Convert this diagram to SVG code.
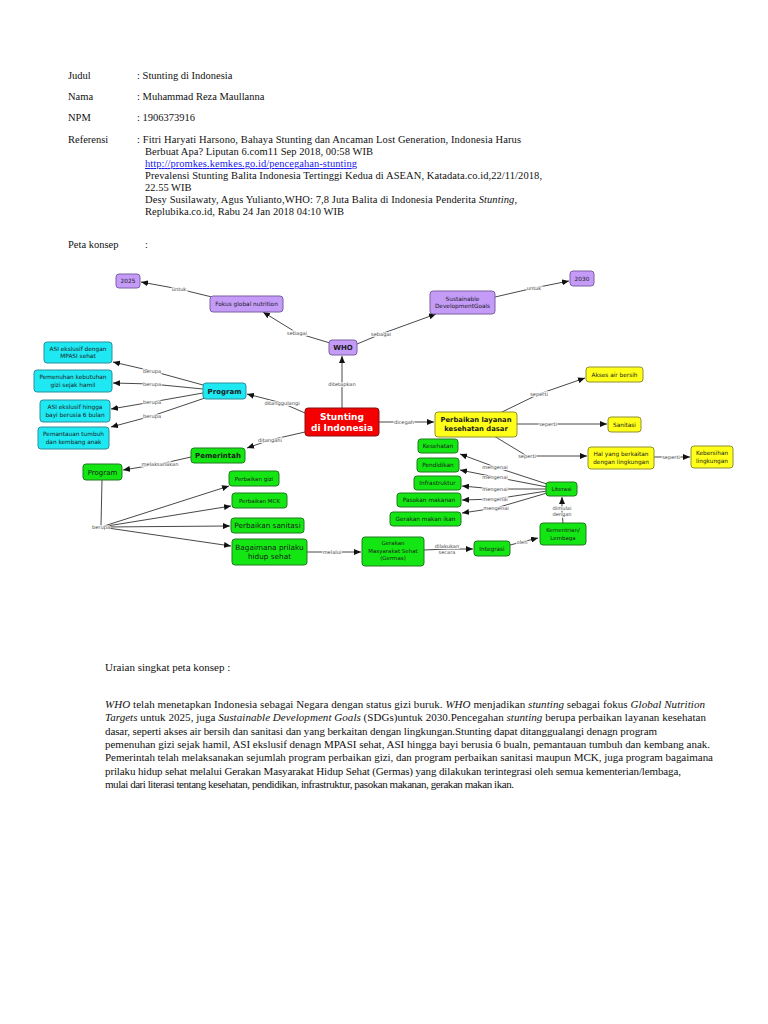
<svg xmlns="http://www.w3.org/2000/svg" width="768" height="1024" viewBox="0 0 768 1024">
<style>
.doc{font-family:"Liberation Serif","Times New Roman",serif;font-size:10.5px;fill:#111}
.par{font-family:"Liberation Serif","Times New Roman",serif;font-size:11px;fill:#111}
.link{fill:#1a1aee;text-decoration:underline}
.n rect{stroke-width:1}
.pu rect{fill:#c49cf8;stroke:#7c5fa3}
.cy rect{fill:#1ee8f2;stroke:#2a8f9c}
.rd rect{fill:#f40000;stroke:#8a1010}
.ye rect{fill:#ffff1a;stroke:#8f8f30}
.gr rect{fill:#14e614;stroke:#1f7a1f}
.t{font-family:"DejaVu Sans",Verdana,sans-serif;font-size:5.8px;fill:#1a1a1a;text-anchor:middle}
.b{font-weight:bold}
.s7{font-size:7px}
.s55{font-size:5.5px}
.s73{font-size:7.3px}
.st{font-size:9px;fill:#fff}
.s68{font-size:6.8px}
.lb{font-family:"DejaVu Sans",Verdana,sans-serif;font-size:5.1px;fill:#444;text-anchor:middle;stroke:#fff;stroke-width:1.6px;paint-order:stroke}
.c polyline{fill:none;stroke:#333;stroke-width:0.9}
.c .a{marker-end:url(#arr)}
</style>
<defs>
<marker id="arr" viewBox="0 0 7 6" refX="7" refY="3" markerWidth="7" markerHeight="6" markerUnits="userSpaceOnUse" orient="auto">
<path d="M0,0 L7,3 L0,6 z" fill="#111"/>
</marker>
</defs>
<rect width="768" height="1024" fill="#fff"/>

<g id="header">
<text class="doc" x="68" y="79">Judul</text>
<text class="doc" x="137" y="79">: Stunting di Indonesia</text>
<text class="doc" x="68" y="100">Nama</text>
<text class="doc" x="137" y="100">: Muhammad Reza Maullanna</text>
<text class="doc" x="68" y="121">NPM</text>
<text class="doc" x="137" y="121">: 1906373916</text>
<text class="doc" x="68" y="143">Referensi</text>
<text class="doc" x="137" y="143" textLength="384">: Fitri Haryati Harsono, Bahaya Stunting dan Ancaman Lost Generation, Indonesia Harus</text>
<text class="doc" x="145" y="155" textLength="228">Berbuat Apa? Liputan 6.com11 Sep 2018, 00:58 WIB</text>
<text class="doc link" x="145" y="167" textLength="212">http://promkes.kemkes.go.id/pencegahan-stunting</text>
<text class="doc" x="145" y="179" textLength="397">Prevalensi Stunting Balita Indonesia Tertinggi Kedua di ASEAN, Katadata.co.id,22/11/2018,</text>
<text class="doc" x="145" y="191">22.55 WIB</text>
<text class="doc" x="145" y="203" textLength="372">Desy Susilawaty, Agus Yulianto,WHO: 7,8 Juta Balita di Indonesia Penderita <tspan font-style="italic">Stunting</tspan>,</text>
<text class="doc" x="145" y="215" textLength="199">Replubika.co.id, Rabu 24 Jan 2018 04:10 WIB</text>
<text class="doc" x="68" y="248">Peta konsep</text>
<text class="doc" x="145" y="248">:</text>
</g>

<g id="connectors" class="c">
<polyline class="a" points="212,297 179,289 141,282"/>
<polyline class="a" points="330,343 297,333 263,312"/>
<polyline class="a" points="357,344 381,334 436,314"/>
<polyline class="a" points="495,297 534,288 569,281"/>
<polyline class="a" points="342,408 342,384 342,356"/>
<polyline class="a" points="305,413 282,403 247,394"/>
<polyline class="a" points="203,385 152,371 113,362"/>
<polyline class="a" points="203,389 152,384 113,383"/>
<polyline class="a" points="203,393 152,402 111,409"/>
<polyline class="a" points="205,398 152,416 111,427"/>
<polyline class="a" points="305,432 270,440 247,448"/>
<polyline class="a" points="191,457 160,464 123,470"/>
<polyline points="102,480 101,526"/>
<polyline class="a" points="101,527 229,486"/>
<polyline class="a" points="101,527 231,506"/>
<polyline class="a" points="101,527 230,526"/>
<polyline class="a" points="101,527 231,546"/>
<polyline class="a" points="307,552 332,552 361,552"/>
<polyline class="a" points="424,550 447,549 473,549"/>
<polyline class="a" points="510,545 522,542 538,538"/>
<polyline class="a" points="563,523 562,512 562,497"/>
<polyline class="a" points="547,484 495,467 460,454"/>
<polyline class="a" points="547,487 495,477 460,470"/>
<polyline class="a" points="547,489 495,489 462,486"/>
<polyline class="a" points="547,491 495,499 462,500"/>
<polyline class="a" points="547,493 496,508 462,513"/>
<polyline class="a" points="379,422 404,422 434,422"/>
<polyline class="a" points="502,412 539,394 585,378"/>
<polyline class="a" points="517,424 548,424 607,424"/>
<polyline class="a" points="494,436 527,456 587,456"/>
<polyline class="a" points="654,457 671,457 690,457"/>

<text class="lb" x="179" y="290.5">untuk</text>
<text class="lb" x="297" y="334.5">sebagai</text>
<text class="lb" x="381" y="335.5">sebagai</text>
<text class="lb" x="534" y="289.5">untuk</text>
<text class="lb" x="342" y="385.5">ditetapkan</text>
<text class="lb" x="282" y="404.5">ditanggulangi</text>
<text class="lb" x="152" y="372.5">berupa</text>
<text class="lb" x="152" y="385.5">berupa</text>
<text class="lb" x="152" y="403.5">berupa</text>
<text class="lb" x="152" y="417.5">berupa</text>
<text class="lb" x="270" y="441.5">ditangani</text>
<text class="lb" x="160" y="465.5">melaksanakan</text>
<text class="lb" x="101" y="528.5">berupa</text>
<text class="lb" x="332" y="553.5">melalui</text>
<text class="lb" x="447" y="547.5">dilakukan<tspan x="447" dy="6">secara</tspan></text>
<text class="lb" x="522" y="543.5">oleh</text>
<text class="lb" x="562" y="510">dimulai<tspan x="562" dy="6">dengan</tspan></text>
<text class="lb" x="495" y="468.5">mengenai</text>
<text class="lb" x="495" y="478.5">mengenai</text>
<text class="lb" x="495" y="490.5">mengenai</text>
<text class="lb" x="495" y="500.5">mengenai</text>
<text class="lb" x="496" y="509.5">mengenai</text>
<text class="lb" x="404" y="423.5">dicegah</text>
<text class="lb" x="539" y="395.5">seperti</text>
<text class="lb" x="548" y="425.5">seperti</text>
<text class="lb" x="527" y="457.5">seperti</text>
<text class="lb" x="671" y="458.5">seperti</text>
</g>

<g id="n2025" class="n pu"><rect x="116" y="274" width="24" height="14" rx="3"/><text class="t" x="128" y="283">2025</text></g>
<g id="nFokus" class="n pu"><rect x="210" y="296" width="73" height="16" rx="3"/><text class="t" x="246.5" y="306">Fokus global nutrition</text></g>
<g id="nWHO" class="n pu"><rect x="329" y="340" width="28" height="15" rx="3"/><text class="t b s7" x="343" y="350.2">WHO</text></g>
<g id="nSDG" class="n pu"><rect x="430" y="291" width="65" height="23" rx="3"/><text class="t" x="462.5" y="300.5">Sustainable<tspan x="462.5" dy="7.5">DevelopmentGoals</tspan></text></g>
<g id="n2030" class="n pu"><rect x="570" y="271" width="24" height="15" rx="3"/><text class="t" x="582" y="280.5">2030</text></g>

<g id="nASI1" class="n cy"><rect x="44" y="342" width="68" height="21" rx="3"/><text class="t" x="78" y="350.5">ASI ekslusif dengan<tspan x="78" dy="7.5">MPASI sehat</tspan></text></g>
<g id="nPemenuhan" class="n cy"><rect x="34" y="370" width="78" height="22" rx="3"/><text class="t" x="73" y="379">Pemenuhan kebutuhan<tspan x="73" dy="7.5">gizi sejak hamil</tspan></text></g>
<g id="nASI2" class="n cy"><rect x="40" y="400" width="70" height="22" rx="3"/><text class="t" x="75" y="409">ASI ekslusif hingga<tspan x="75" dy="7.5">bayi berusia 6 bulan</tspan></text></g>
<g id="nPemantauan" class="n cy"><rect x="38" y="427" width="71" height="22" rx="3"/><text class="t" x="73.5" y="436">Pemantauan tumbuh<tspan x="73.5" dy="7.5">dan kembang anak</tspan></text></g>
<g id="nProgramC" class="n cy"><rect x="203" y="383" width="43" height="16" rx="3"/><text class="t b s7" x="224.5" y="393.6">Program</text></g>

<g id="nStunting" class="n rd"><rect x="305" y="408" width="74" height="28" rx="3"/><text class="t b st" x="342" y="419.5">Stunting<tspan x="342" dy="11">di Indonesia</tspan></text></g>

<g id="nPerbaikan" class="n ye"><rect x="435" y="412" width="82" height="25" rx="3"/><text class="t b s68" x="476" y="422">Perbaikan layanan<tspan x="476" dy="8.5">kesehatan dasar</tspan></text></g>
<g id="nAkses" class="n ye"><rect x="586" y="367" width="57" height="15" rx="3"/><text class="t" x="614.5" y="376.5">Akses air bersih</text></g>
<g id="nSanitasi" class="n ye"><rect x="608" y="417" width="33" height="15" rx="3"/><text class="t" x="624.5" y="426.5">Sanitasi</text></g>
<g id="nHal" class="n ye"><rect x="588" y="447" width="66" height="22" rx="3"/><text class="t" x="621" y="456">Hal yang berkaitan<tspan x="621" dy="7.5">dengan lingkungan</tspan></text></g>
<g id="nKebersihan" class="n ye"><rect x="691" y="446" width="42" height="22" rx="3"/><text class="t" x="712" y="455">Kebersihan<tspan x="712" dy="7.5">lingkungan</tspan></text></g>

<g id="nPemerintah" class="n gr"><rect x="191" y="448" width="54" height="15" rx="3"/><text class="t b s7" x="218" y="458">Pemerintah</text></g>
<g id="nProgramG" class="n gr"><rect x="83" y="464" width="39" height="16" rx="3"/><text class="t s7" x="102.5" y="474.6">Program</text></g>
<g id="nGizi" class="n gr"><rect x="229" y="471" width="50" height="15" rx="3"/><text class="t s55" x="254" y="480.5">Perbaikan gizi</text></g>
<g id="nMCK" class="n gr"><rect x="232" y="493" width="55" height="15" rx="3"/><text class="t s55" x="259.5" y="502.5">Perbaikan MCK</text></g>
<g id="nSanitasiG" class="n gr"><rect x="231" y="518" width="73" height="15" rx="3"/><text class="t s73" x="267.5" y="528.3">Perbaikan sanitasi</text></g>
<g id="nBagaimana" class="n gr"><rect x="232" y="539" width="75" height="26" rx="3"/><text class="t s73" x="269.5" y="549.5">Bagaimana prilaku<tspan x="269.5" dy="9">hidup sehat</tspan></text></g>
<g id="nGermas" class="n gr"><rect x="362" y="537" width="62" height="29" rx="3"/><text class="t s55" x="393" y="545">Gerakan<tspan x="393" dy="7.5">Masyarakat Sehat</tspan><tspan x="393" dy="7.5">(Germas)</tspan></text></g>
<g id="nIntegrasi" class="n gr"><rect x="474" y="541" width="36" height="15" rx="3"/><text class="t" x="492" y="550.5">Integrasi</text></g>
<g id="nKementrian" class="n gr"><rect x="540" y="523" width="46" height="22" rx="3"/><text class="t s55" x="563" y="532">Kementrian/<tspan x="563" dy="7.5">Lembaga</tspan></text></g>
<g id="nLiterasi" class="n gr"><rect x="546" y="482" width="31" height="14" rx="3"/><text class="t s55" x="561.5" y="491">Literasi</text></g>
<g id="nKesehatan" class="n gr"><rect x="418" y="439" width="40" height="14" rx="3"/><text class="t" x="438" y="448">Kesehatan</text></g>
<g id="nPendidikan" class="n gr"><rect x="417" y="458" width="42" height="14" rx="3"/><text class="t" x="438" y="467">Pendidikan</text></g>
<g id="nInfra" class="n gr"><rect x="414" y="476" width="47" height="14" rx="3"/><text class="t" x="437.5" y="485">Infrastruktur</text></g>
<g id="nPasokan" class="n gr"><rect x="397" y="493" width="64" height="14" rx="3"/><text class="t" x="429" y="502">Pasokan makanan</text></g>
<g id="nIkan" class="n gr"><rect x="390" y="512" width="71" height="14" rx="3"/><text class="t" x="425.5" y="521">Gerakan makan ikan</text></g>

<g id="uraian">
<text class="par" x="105" y="671">Uraian singkat peta konsep :</text>
<text class="par" x="105" y="708" textLength="600"><tspan font-style="italic">WHO</tspan> telah menetapkan Indonesia sebagai Negara dengan status gizi buruk. <tspan font-style="italic">WHO</tspan> menjadikan <tspan font-style="italic">stunting</tspan> sebagai fokus <tspan font-style="italic">Global Nutrition</tspan></text>
<text class="par" x="105" y="721" textLength="601"><tspan font-style="italic">Targets</tspan> untuk 2025, juga <tspan font-style="italic">Sustainable Development Goals</tspan> (SDGs)untuk 2030.Pencegahan <tspan font-style="italic">stunting</tspan> berupa perbaikan layanan kesehatan</text>
<text class="par" x="105" y="735" textLength="552">dasar, seperti akses air bersih dan sanitasi dan yang berkaitan dengan lingkungan.Stunting dapat ditanggualangi denagn program</text>
<text class="par" x="105" y="748" textLength="605">pemenuhan gizi sejak hamil, ASI ekslusif denagn MPASI sehat, ASI hingga bayi berusia 6 bualn, pemantauan tumbuh dan kembang anak.</text>
<text class="par" x="105" y="761" textLength="608">Pemerintah telah melaksanakan sejumlah program perbaikan gizi, dan program perbaikan sanitasi maupun MCK, juga program bagaimana</text>
<text class="par" x="105" y="775" textLength="576">prilaku hidup sehat melalui Gerakan Masyarakat Hidup Sehat (Germas) yang dilakukan terintegrasi oleh semua kementerian/lembaga,</text>
<text class="par" x="105" y="788" textLength="409">mulai dari literasi tentang kesehatan, pendidikan, infrastruktur, pasokan makanan, gerakan makan ikan.</text>
</g>
</svg>
